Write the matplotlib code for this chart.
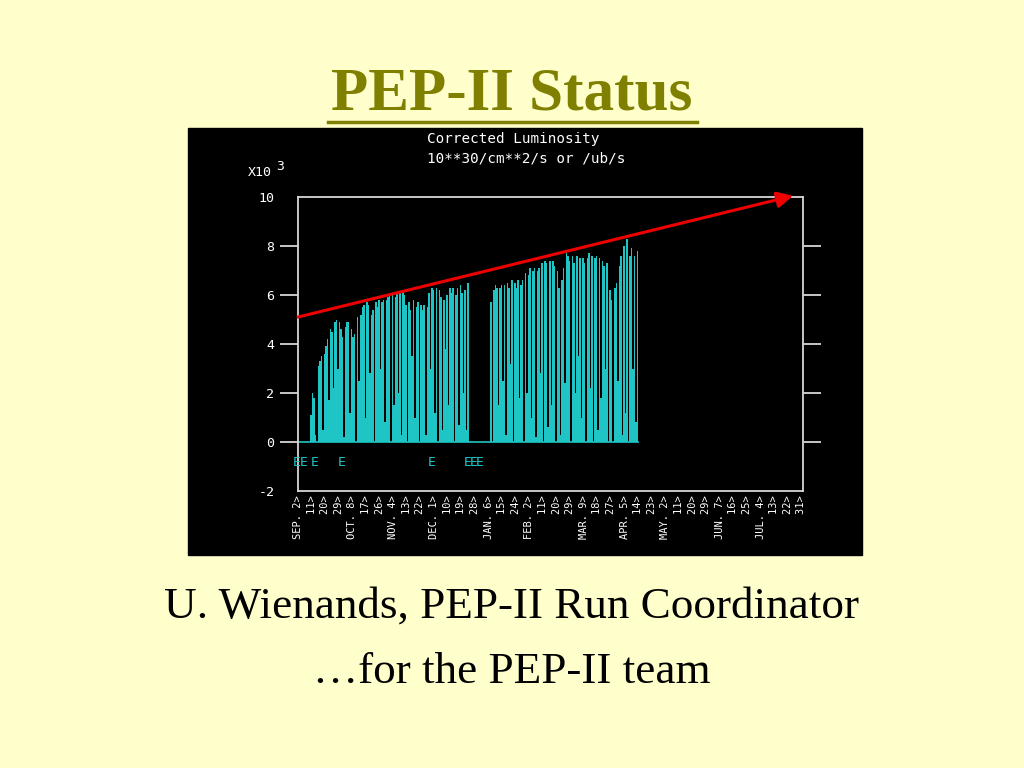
import matplotlib.pyplot as plt
from matplotlib.patches import Rectangle
from matplotlib.lines import Line2D
import numpy as np

# daily peak corrected luminosity (x10^3 of 10**30/cm**2/s), day 0 = Sep 2
peak_lumi = [
    0, 0, 0, 0, 0, 0, 0, 0, 1.1, 2.0,          # 0-9
    1.8, 0.3, 2.9, 3.1, 3.3, 3.5, 3.7, 3.6, 3.9, 4.2,   # 10-19
    4.4, 4.6, 4.5, 4.8, 4.9, 5.0, 4.8, 4.9, 4.6, 4.3,   # 20-29
    4.5, 4.7, 4.9, 4.9, 4.7, 4.6, 4.3, 4.4, 4.9, 5.1,   # 30-39
    5.3, 5.2, 5.5, 5.6, 5.4, 5.7, 5.6, 5.5, 5.2, 5.4,   # 40-49
    5.6, 5.7, 5.5, 5.8, 5.9, 5.7, 5.8, 6.0, 5.8, 5.9,   # 50-59
    6.0, 5.9, 6.1, 6.0, 5.9, 6.1, 6.0, 6.1, 6.0, 6.2,   # 60-69
    6.0, 5.6, 5.5, 5.7, 5.4, 5.6, 5.8, 5.6, 5.5, 5.7,   # 70-79
    5.8, 5.6, 5.4, 5.6, 5.7, 5.5, 6.1, 6.4, 6.3, 6.2,   # 80-89
    6.4, 6.3, 6.1, 6.2, 5.9, 6.0, 5.8, 6.1, 6.0, 6.2,   # 90-99
    6.3, 6.1, 6.3, 6.2, 6.0, 6.3, 6.2, 6.4, 6.1, 6.3,   # 100-109
    6.2, 6.4, 6.5, 0, 0, 0, 0, 0, 0, 0,                 # 110-119
    0, 0, 0, 0, 0, 0, 0, 5.7, 6.0, 6.2,                 # 120-129
    6.4, 6.3, 6.5, 6.3, 6.4, 6.5, 6.4, 6.6, 6.5, 6.3,   # 130-139
    6.5, 6.6, 6.4, 6.5, 6.3, 6.6, 6.5, 6.4, 6.6, 6.8,   # 140-149
    6.9, 7.0, 6.8, 7.1, 6.9, 7.0, 7.1, 6.9, 7.0, 7.1,   # 150-159
    7.2, 7.3, 7.2, 7.4, 7.3, 7.2, 7.4, 7.3, 7.4, 7.2,   # 160-169
    7.3, 7.0, 6.3, 6.0, 6.6, 7.1, 7.5, 7.7, 7.6, 7.4,   # 170-179
    7.5, 7.6, 7.3, 7.5, 7.6, 7.4, 7.5, 7.7, 7.5, 7.3,   # 180-189
    7.6, 7.5, 7.7, 7.95, 7.6, 7.4, 7.5, 7.6, 7.3, 7.5,  # 190-199
    7.6, 7.4, 7.2, 7.5, 7.3, 7.0, 6.2, 5.8, 6.0, 6.3,   # 200-209
    6.5, 6.8, 7.2, 7.6, 7.9, 8.0, 8.2, 8.3, 8.1, 7.6,   # 210-219
    7.9, 7.8, 7.6, 7.7, 7.8, 0,                         # 220-225
]

# (day, lowest value) of the drops during a day
dip_days = [12, 16, 20, 23, 26, 30, 34, 38, 40, 44, 47, 50, 54, 57, 61, 63,
            66, 68, 72, 75, 77, 80, 84, 87, 90, 92, 95, 97, 99, 103, 106, 109,
            111, 128, 132, 135, 137, 140, 142, 146, 149, 151, 154, 157, 160,
            162, 165, 167, 170, 173, 176, 180, 183, 185, 187, 190, 193, 195,
            198, 200, 203, 205, 208, 211, 214, 216, 218, 221, 223]
dip_depth = [0.0, 0.5, 1.7, 2.2, 3.0, 0.2, 1.2, 0.0, 2.5, 1.0, 2.8, 0.0, 3.0, 0.8, 0.0, 1.5,
             2.0, 0.3, 0.0, 3.5, 1.0, 0.0, 0.3, 3.0, 1.2, 0.0, 0.5, 3.8, 1.5, 0.0, 0.7, 2.0,
             0.5, 0.0, 1.5, 2.5, 0.3, 3.2, 0.0, 1.8, 0.0, 2.0, 1.0, 0.2, 2.8,
             0.0, 0.6, 1.5, 0.0, 0.3, 2.4, 0.0, 2.0, 3.5, 1.0, 0.0, 2.2, 0.0,
             0.5, 1.8, 3.0, 0.0, 0.0, 2.5, 0.3, 1.2, 0.0, 3.0, 0.8]

# days flagged with an "E" marker
e_days = [-0.5, 3.5, 11, 29, 88.5, 112, 116, 120.5]

tick_days = list(range(0, 334, 9))
tick_labels = ['SEP. 2>', '11>', '20>', '29>', 'OCT. 8>', '17>', '26>',
               'NOV. 4>', '13>', '22>', 'DEC. 1>', '10>', '19>', '28>',
               'JAN. 6>', '15>', '24>', 'FEB. 2>', '11>', '20>', '29>',
               'MAR. 9>', '18>', '27>', 'APR. 5>', '14>', '23>', 'MAY. 2>',
               '11>', '20>', '29>', 'JUN. 7>', '16>', '25>', 'JUL. 4>',
               '13>', '22>', '31>']

# red trend arrow (start, end) in (day, value)
trend_start = (0, 5.1)
trend_end = (327.5, 10.05)

CYAN = '#1fc4c4'
GREY = '#d6d6d6'
MONO = 'DejaVu Sans Mono'

# build the step series: a dip takes the whole day
lumi = np.array(peak_lumi, dtype=float)
for d, v in zip(dip_days, dip_depth):
    lumi[d] = v
days = np.arange(len(lumi))

fig = plt.figure(figsize=(10.24, 7.68), dpi=100)
fig.patch.set_facecolor('#ffffcc')

# black picture of the luminosity plot
fig.patches.append(Rectangle((188 / 1024, 213 / 768), 674 / 1024, 427 / 768,
                             transform=fig.transFigure, color='black', zorder=-5))

fig.text(0.5, 1 - 94 / 768, 'PEP-II Status', ha='center', va='center',
         family='Liberation Serif', weight='bold', fontsize=44, color='#808000')
fig.lines.append(Line2D([328 / 1024, 697 / 1024], [1 - 122 / 768, 1 - 122 / 768],
                        transform=fig.transFigure, color='#808000', lw=2.5))

fig.text(0.5, 1 - 607 / 768, 'U. Wienands, PEP-II Run Coordinator', ha='center',
         va='center', family='Liberation Serif', fontsize=32.5, color='black')
fig.text(0.5, 1 - 672 / 768, '\u2026for the PEP-II team', ha='center',
         va='center', family='Liberation Serif', fontsize=32.5, color='black')

fig.text(427 / 1024, 1 - 139 / 768, 'Corrected Luminosity', ha='left',
         va='center', family=MONO, fontsize=10.3, color='white')
fig.text(427 / 1024, 1 - 159 / 768, '10**30/cm**2/s or /ub/s', ha='left',
         va='center', family=MONO, fontsize=10.3, color='white')
fig.text(248 / 1024, 1 - 173 / 768, 'X10', ha='left', va='center',
         family=MONO, fontsize=9.5, color='white')
fig.text(276 / 1024, 1 - 167 / 768, '3', ha='left', va='center',
         family=MONO, fontsize=9.5, color='white')

ax = fig.add_axes([298 / 1024, 277 / 768, 505 / 1024, 294 / 768])
ax.set_zorder(2)
ax.set_facecolor('black')
ax.fill_between(days, 0, lumi, step='post', color=CYAN, lw=0)
ax.plot([0, days[-1]], [0, 0], color=CYAN, lw=1.2)

for d in e_days:
    ax.text(d, -0.82, 'E', color=CYAN, family=MONO, fontsize=9.5,
            ha='center', va='center', clip_on=False)

ax.annotate('', xy=trend_end, xytext=trend_start, annotation_clip=False,
            arrowprops=dict(arrowstyle='-|>', color='#ee0000', lw=2.2,
                            mutation_scale=24, shrinkA=0, shrinkB=0))

ax.set_xlim(0, 334)
ax.set_ylim(-2, 10)
ax.set_yticks([-2, 0, 2, 4, 6, 8, 10])
ax.set_yticklabels(['-2', '0', '2', '4', '6', '8', '10'], family=MONO, fontsize=9.5)
ax.set_xticks(tick_days)
ax.set_xticklabels([s.rjust(7) for s in tick_labels], rotation=90,
                   family=MONO, fontsize=7.5, va='top', ha='center')
ax.tick_params(axis='x', length=0, pad=3, colors='white')
ax.tick_params(axis='y', which='both', direction='out', length=13, width=1.3,
               color=GREY, labelcolor='white', right=True, pad=4)
# no ticks at the ends of the axis
for t in (ax.yaxis.get_major_ticks()[0], ax.yaxis.get_major_ticks()[-1]):
    t.tick1line.set_visible(False)
    t.tick2line.set_visible(False)
for s in ax.spines.values():
    s.set_color(GREY)
    s.set_linewidth(1.3)

fig.savefig('out.png', dpi=100, facecolor=fig.get_facecolor())
